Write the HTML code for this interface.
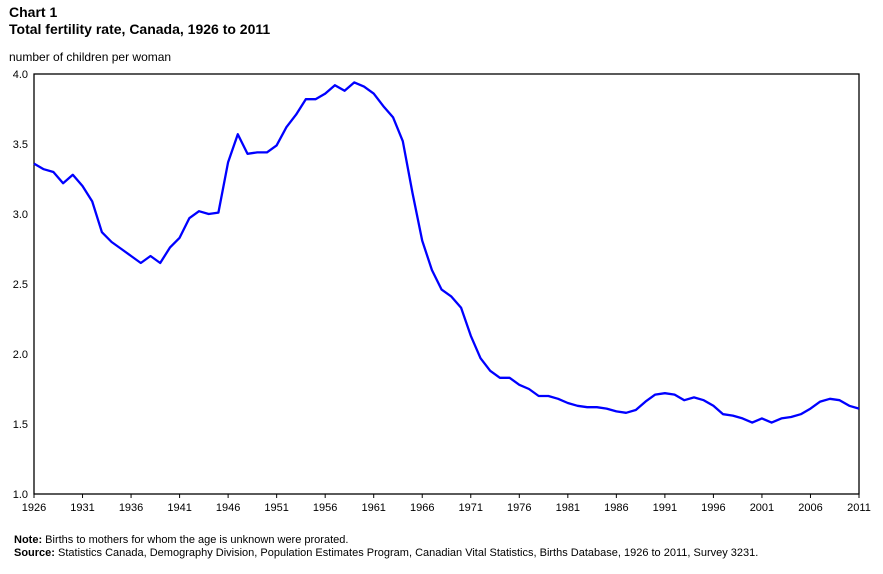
<!DOCTYPE html>
<html><head><meta charset="utf-8"><style>
body{margin:0;background:#fff;font-family:"Liberation Sans",Arial,sans-serif;}
svg text{font-family:"Liberation Sans",Arial,sans-serif;}
</style></head><body>
<svg id="chart" width="883" height="569" viewBox="0 0 883 569" xmlns="http://www.w3.org/2000/svg">
<text x="9" y="17" font-size="14" font-weight="bold">Chart 1</text>
<text x="9" y="34" font-size="14" font-weight="bold">Total fertility rate, Canada, 1926 to 2011</text>
<text x="9" y="61" font-size="12">number of children per woman</text>
<rect x="34" y="74" width="825" height="420" fill="none" stroke="#000" stroke-width="1.3"/>
<g id="yticks"></g><g id="xticks"></g>
<path id="line" fill="none" stroke="#0000ff" stroke-width="2.3" stroke-linejoin="round"/>
<text x="14" y="543" font-size="11"><tspan font-weight="bold">Note:</tspan> Births to mothers for whom the age is unknown were prorated.</text>
<text x="14" y="556" font-size="11"><tspan font-weight="bold">Source:</tspan> Statistics Canada, Demography Division, Population Estimates Program, Canadian Vital Statistics, Births Database, 1926 to 2011, Survey 3231.</text>
</svg>
<script>
const startYear = 1926;
const rates = [3.36,3.32,3.30,3.22,3.28,3.20,3.09,2.87,2.80,2.75,2.70,2.65,2.70,2.65,2.76,2.83,2.97,3.02,3.00,3.01,3.37,3.57,3.43,3.44,3.44,3.49,3.62,3.71,3.82,3.82,3.86,3.92,3.88,3.94,3.91,3.86,3.77,3.69,3.52,3.15,2.81,2.60,2.46,2.41,2.33,2.13,1.97,1.88,1.83,1.83,1.78,1.75,1.70,1.70,1.68,1.65,1.63,1.62,1.62,1.61,1.59,1.58,1.60,1.66,1.71,1.72,1.71,1.67,1.69,1.67,1.63,1.57,1.56,1.54,1.51,1.54,1.51,1.54,1.55,1.57,1.61,1.66,1.68,1.67,1.63,1.61];
const yTickLabels = ["1.0","1.5","2.0","2.5","3.0","3.5","4.0"];
const xTickLabels = ["1926","1931","1936","1941","1946","1951","1956","1961","1966","1971","1976","1981","1986","1991","1996","2001","2006","2011"];
const NS="http://www.w3.org/2000/svg";
const x0=34,x1=859,y0=494,y1=74,yMin=1,yMax=4,xMin=1926,xMax=2011;
const sx=v=>x0+(v-xMin)/(xMax-xMin)*(x1-x0);
const sy=v=>y0-(v-yMin)/(yMax-yMin)*(y0-y1);
const yt=document.getElementById('yticks'),xt=document.getElementById('xticks');
yTickLabels.forEach(l=>{const t=document.createElementNS(NS,'text');


t.setAttribute('x',28);t.setAttribute('y',sy(+l)+4);t.setAttribute('font-size','11');t.setAttribute('text-anchor','end');t.textContent=l;yt.appendChild(t);});
xTickLabels.forEach(l=>{const X=sx(+l);const ln=document.createElementNS(NS,'line');


ln.setAttribute('x1',X);ln.setAttribute('x2',X);ln.setAttribute('y1',y0);ln.setAttribute('y2',y0+4);ln.setAttribute('stroke','#000');xt.appendChild(ln);
const t=document.createElementNS(NS,'text');


t.setAttribute('x',X);t.setAttribute('y',511);t.setAttribute('font-size','11');t.setAttribute('text-anchor','middle');t.textContent=l;xt.appendChild(t);});
document.getElementById('line').setAttribute('d',rates.map((r,i)=>(i?'L':'M')+sx(startYear+i).toFixed(1)+','+sy(r).toFixed(1)).join(''));
</script>
</body></html>
